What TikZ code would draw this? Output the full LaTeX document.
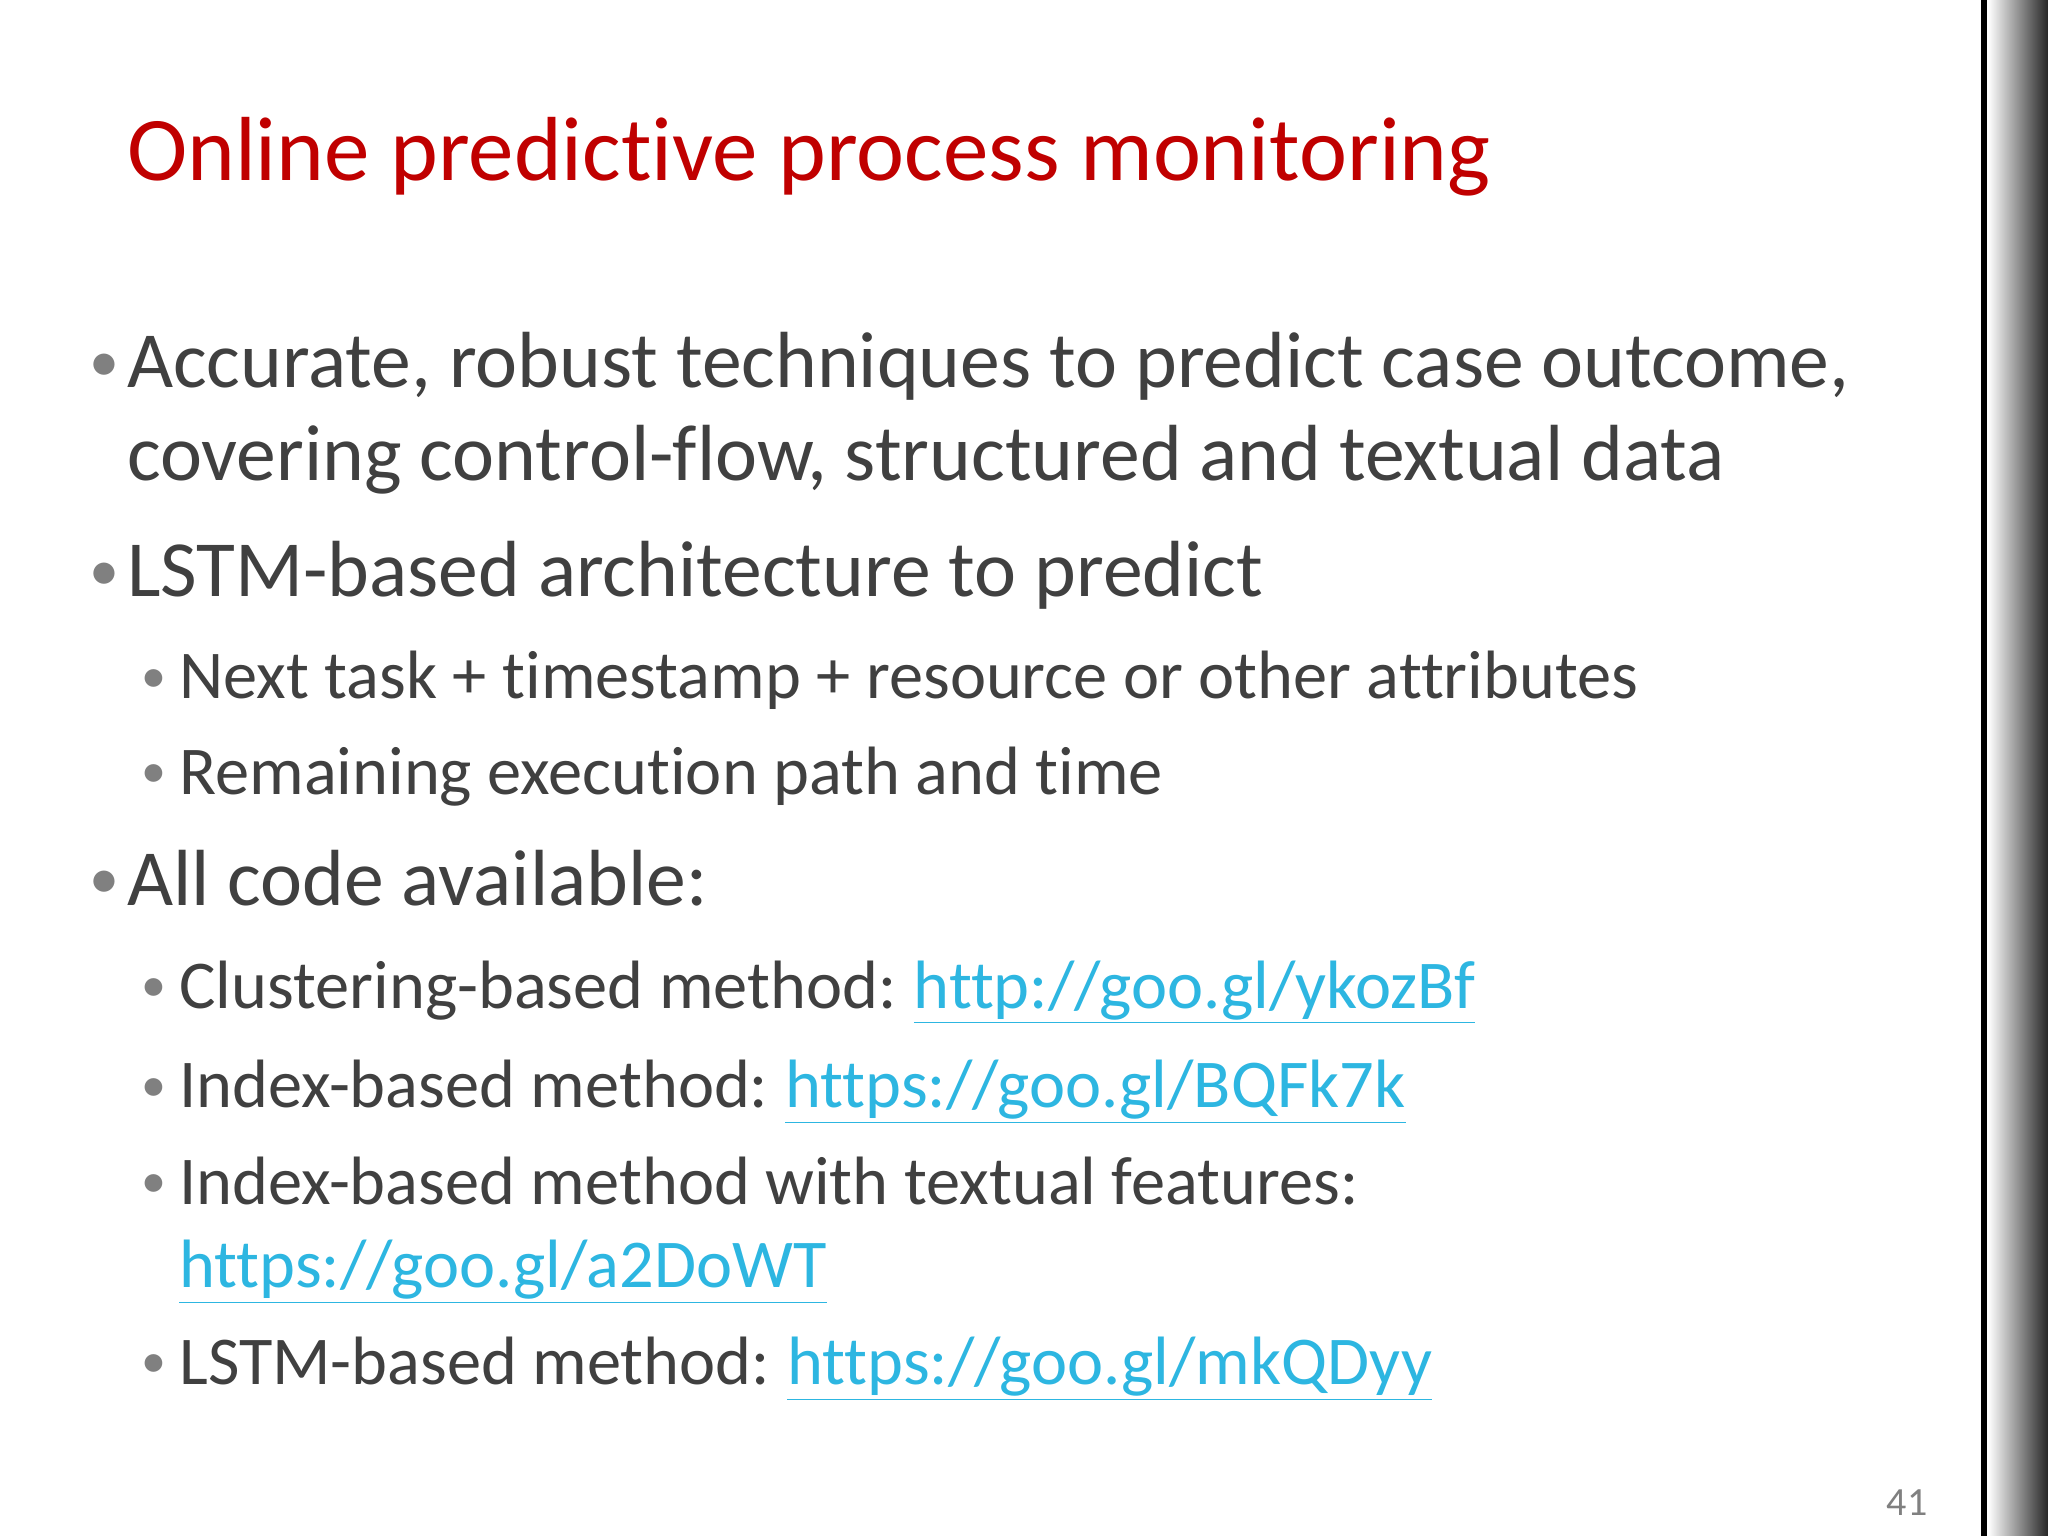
\documentclass[tikz,border=0pt]{standalone}
\usepackage{fontspec}
\setmainfont[Ligatures=NoCommon]{Carlito}
\definecolor{txt}{HTML}{404040}
\definecolor{ttl}{HTML}{C00000}
\definecolor{lnk}{HTML}{2DB6E1}
\definecolor{bul}{HTML}{808080}
\newcommand{\lk}[1]{\textcolor{lnk}{\underline{#1}}}
\begin{document}
\begin{tikzpicture}[x=0.653pt,y=-0.653pt,
  lone/.style={anchor=base west,inner sep=0pt,text=txt,font=\fontsize{39.8}{48}\selectfont},
  ltwo/.style={anchor=base west,inner sep=0pt,text=txt,font=\fontsize{34.2}{40}\selectfont},
  bone/.style={anchor=base west,inner sep=0pt,text=bul,font=\fontsize{30}{34}\selectfont},
  btwo/.style={anchor=base west,inner sep=0pt,text=bul,font=\fontsize{25}{30}\selectfont}]
\useasboundingbox (0,0) rectangle (1568,1176);
\fill[white] (0,0) rectangle (1568,1176);
\shade[left color=white,right color=black!85] (1522,0) rectangle (1568,1176);
\fill[black] (1517,0) rectangle (1521,1176);
\node[anchor=base west,inner sep=0pt,text=ttl,font=\fontsize{45.5}{54}\selectfont] (title) at (97,138) {Online predictive process monitoring};
\node[bone] (b1) at (68,292) {•};
\node[lone] (t1) at (97,297) {Accurate, robust techniques to predict case outcome,};
\node[lone] (t1b) at (97,368) {covering control-flow, structured and textual data};
\node[bone] (b2) at (68,452) {•};
\node[lone] (t2) at (97,457) {LSTM-based architecture to predict};
\node[btwo] (b21) at (108,530) {•};
\node[ltwo] (t21) at (137,535) {Next task + timestamp + resource or other attributes};
\node[btwo] (b22) at (108,603) {•};
\node[ltwo] (t22) at (137,608) {Remaining execution path and time};
\node[bone] (b3) at (68,688) {•};
\node[lone] (t3) at (97,693) {All code available:};
\node[btwo] (b31) at (108,767) {•};
\node[ltwo] (t31) at (137,772) {Clustering-based method:\hspace{0.25em}\lk{http://goo.gl/ykozBf}};
\node[btwo] (b32) at (108,843) {•};
\node[ltwo] (t32) at (137,848) {Index-based method:\hspace{0.25em}\lk{https://goo.gl/BQFk7k}};
\node[btwo] (b33) at (108,917) {•};
\node[ltwo] (t33) at (137,922) {Index-based method with textual features:};
\node[ltwo] (t33b) at (137,986) {\lk{https://goo.gl/a2DoWT}};
\node[btwo] (b34) at (108,1055) {•};
\node[ltwo] (t34) at (137,1060) {LSTM-based method:\hspace{0.25em}\lk{https://goo.gl/mkQDyy}};
\node[anchor=base east,inner sep=0pt,text=bul,font=\fontsize{20}{24}\selectfont] (pg) at (1476,1160) {41};
\end{tikzpicture}
\end{document}
